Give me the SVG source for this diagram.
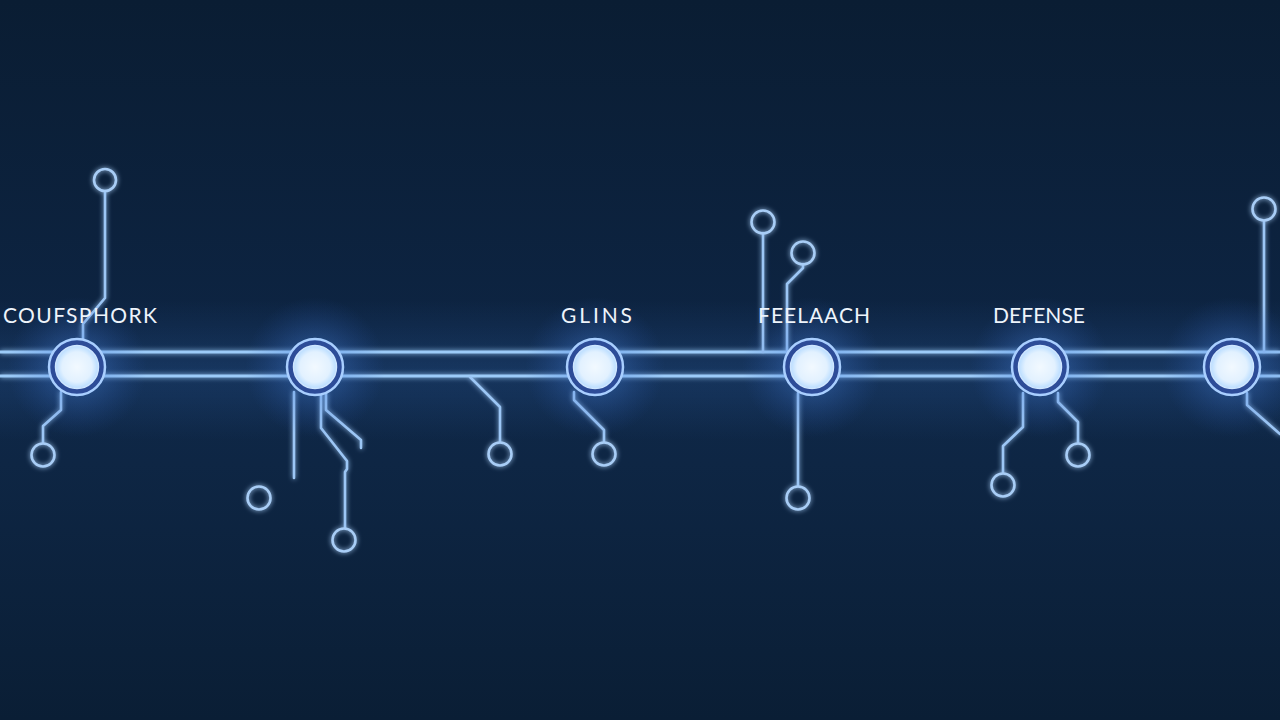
<svg xmlns="http://www.w3.org/2000/svg" width="1280" height="720" viewBox="0 0 1280 720">
<defs>
<linearGradient id="bg" x1="0" y1="0" x2="0" y2="1">
<stop offset="0" stop-color="#0a1d33"/>
<stop offset="0.45" stop-color="#0d2442"/>
<stop offset="0.55" stop-color="#0f2848"/>
<stop offset="1" stop-color="#0a1e35"/>
</linearGradient>
<radialGradient id="halo">
<stop offset="0" stop-color="#7ab4ff" stop-opacity="0.65"/>
<stop offset="0.4" stop-color="#4580e0" stop-opacity="0.28"/>
<stop offset="1" stop-color="#2a5bb8" stop-opacity="0"/>
</radialGradient>
<radialGradient id="core">
<stop offset="0" stop-color="#f2f9ff"/>
<stop offset="0.7" stop-color="#e2f1ff"/>
<stop offset="1" stop-color="#b8dcff"/>
</radialGradient>
<linearGradient id="band" x1="0" y1="0" x2="0" y2="1">
<stop offset="0" stop-color="#3d7ad0" stop-opacity="0"/>
<stop offset="0.5" stop-color="#3d7ad0" stop-opacity="0.18"/>
<stop offset="1" stop-color="#3d7ad0" stop-opacity="0"/>
</linearGradient>
<filter id="glow" x="-20%" y="-20%" width="140%" height="140%">
<feGaussianBlur stdDeviation="2.5" result="b"/>
<feMerge><feMergeNode in="b"/><feMergeNode in="SourceGraphic"/></feMerge>
</filter>
<g id="node">
<circle r="70" fill="url(#halo)"/>
<circle r="28" fill="#2d4c98" stroke="#a9cfff" stroke-width="2.5"/>
<circle r="21.5" fill="url(#core)" stroke="#cfe6ff" stroke-width="1.5"/>
</g>
</defs>
<style>
.wire{fill:none;stroke:#9cc6f5;stroke-width:2.6;stroke-linecap:round;stroke-linejoin:round}
.pad{fill:none;stroke:#a8cdf6;stroke-width:2.6}
.rail{stroke:#9ccbf8;stroke-width:3}
.lbl{font-family:Lato,"Open Sans","DejaVu Sans",sans-serif;font-size:21px;fill:#eef4fb}
</style>
<rect width="1280" height="720" fill="url(#bg)"/>
<rect x="0" y="300" width="1280" height="140" fill="url(#band)"/>

<g id="connectors" filter="url(#glow)">
<line class="rail" x1="0" y1="352" x2="1280" y2="352"/>
<line class="rail" x1="0" y1="376" x2="1280" y2="376"/>
<path class="wire" d="M105 191 V298 L83 324 V340"/>
<circle class="pad" cx="105" cy="180" r="11"/>
<path class="wire" d="M61 392 V410 L43 426 V443"/>
<circle class="pad" cx="43" cy="455" r="11.5"/>
<path class="wire" d="M294 392 V478"/>
<circle class="pad" cx="259" cy="498" r="11.5"/>
<path class="wire" d="M321 392 V428 L347 461 V469 L345 472 V528"/>
<circle class="pad" cx="344" cy="540" r="11.5"/>
<path class="wire" d="M326 393 V410 L361 440 V448"/>
<path class="wire" d="M470 377 L500 407 V442"/>
<circle class="pad" cx="500" cy="454" r="11.5"/>
<path class="wire" d="M574 392 V400 L604 430 V442"/>
<circle class="pad" cx="604" cy="454" r="11.5"/>
<path class="wire" d="M763 233 V352"/>
<circle class="pad" cx="763" cy="222" r="11.5"/>
<path class="wire" d="M803 264 V268 L787 284 V352"/>
<circle class="pad" cx="803" cy="253" r="11.5"/>
<path class="wire" d="M798 393 V486"/>
<circle class="pad" cx="798" cy="498" r="11.5"/>
<path class="wire" d="M1023 393 V427 L1003 446 V473"/>
<circle class="pad" cx="1003" cy="485" r="11.5"/>
<path class="wire" d="M1058 393 V402 L1078 422 V443"/>
<circle class="pad" cx="1078" cy="455" r="11.5"/>
<path class="wire" d="M1264 221 V352"/>
<circle class="pad" cx="1264" cy="209" r="11.5"/>
<path class="wire" d="M1247 393 V405 L1280 434"/>
</g>

<g id="n1"><use href="#node" x="77" y="367"/><text class="lbl" x="3" y="323" textLength="154" lengthAdjust="spacing">COUFSPHORK</text></g>
<g id="n2"><use href="#node" x="315" y="367"/></g>
<g id="n3"><use href="#node" x="595" y="367"/><text class="lbl" x="561" y="323" textLength="71" lengthAdjust="spacing">GLINS</text></g>
<g id="n4"><use href="#node" x="812" y="367"/><text class="lbl" x="758" y="323" textLength="112" lengthAdjust="spacing">FEELAACH</text></g>
<g id="n5"><use href="#node" x="1040" y="367"/><text class="lbl" x="993" y="323" textLength="92" lengthAdjust="spacing">DEFENSE</text></g>
<g id="n6"><use href="#node" x="1232" y="367"/></g>
</svg>
